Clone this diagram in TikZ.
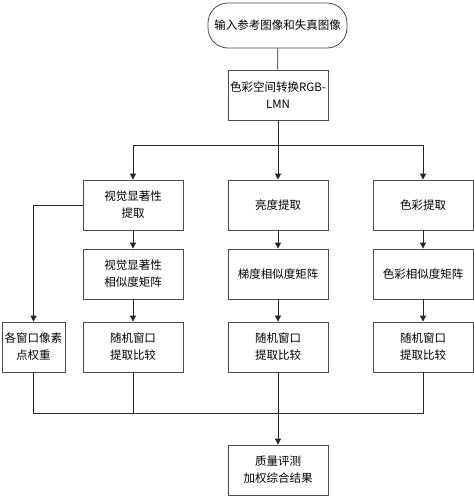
\documentclass[tikz,border=0pt]{standalone}
\usepackage{fontspec}
\setmainfont{Noto Sans CJK SC}
\usetikzlibrary{arrows.meta}
\begin{document}
\begin{tikzpicture}[x=1pt,y=-1pt,
  box/.style={draw=black!70, line width=0.8pt, minimum width=100pt, minimum height=50pt,
    align=center, font=\fontsize{11.5}{17}\selectfont, inner sep=2pt},
  ln/.style={draw=black!85, line width=0.8pt},
  arr/.style={ln, -{Triangle[length=6pt,width=6pt]}}]
\useasboundingbox (0,0) rectangle (474,496);
\node[box, rounded corners=20pt, minimum width=139pt, minimum height=45pt] (top) at (277.5,25.5) {输入参考图像和失真图像};
\node[box] (rgb) at (278,95) {色彩空间转换RGB-\\LMN};
\coordinate (j1) at (278,145);
\node[box] (a1) at (133,205) {视觉显著性\\提取};
\node[box] (b1) at (278,205) {亮度提取};
\node[box] (c1) at (423,205) {色彩提取};
\node[box] (a2) at (133,274) {视觉显著性\\相似度矩阵};
\node[box] (b2) at (278,274) {梯度相似度矩阵};
\node[box] (c2) at (423,274) {色彩相似度矩阵};
\node[box, minimum width=63pt] (s) at (33.5,347) {各窗口像素\\点权重};
\node[box] (a3) at (133,347) {随机窗口\\提取比较};
\node[box] (b3) at (278,347) {随机窗口\\提取比较};
\node[box] (c3) at (423,347) {随机窗口\\提取比较};
\coordinate (j2) at (278,413);
\node[box] (bot) at (278,470) {质量评测\\加权综合结果};
\draw[ln] (top) -- (rgb);
\draw[ln] (rgb.south) -- (j1);
\draw[arr] (j1) -| (a1.north);
\draw[arr] (j1) -- (b1.north);
\draw[arr] (j1) -| (c1.north);
\draw[arr] (a1) -- (a2);
\draw[arr] (b1) -- (b2);
\draw[arr] (c1) -- (c2);
\draw[arr] (a2) -- (a3);
\draw[arr] (b2) -- (b3);
\draw[arr] (c2) -- (c3);
\draw[arr] (a1.west) -| (s.north);
\draw[ln] (s.south) |- (j2);
\draw[ln] (c3.south) |- (j2);
\draw[ln] (a3.south) -- (a3.south |- j2);
\draw[arr] (b3) -- (bot);
\end{tikzpicture}
\end{document}
